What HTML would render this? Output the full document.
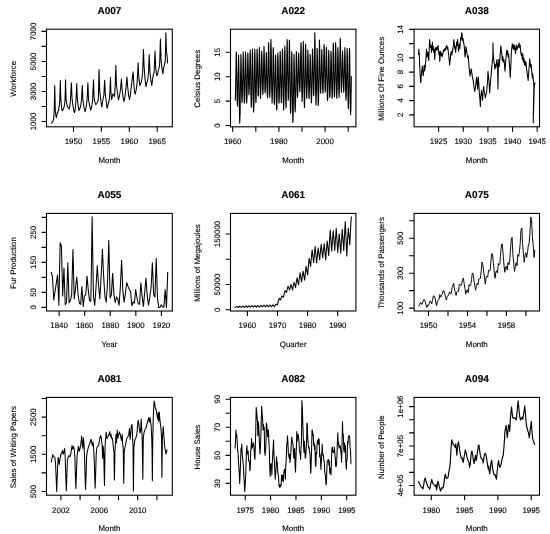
<!DOCTYPE html>
<html><head><meta charset="utf-8"><title>Time series</title>
<style>html,body{margin:0;padding:0;background:#fff}body{width:550px;height:534px;overflow:hidden}</style></head>
<body>
<svg width="550" height="534" viewBox="0 0 550 534" style="display:block">
<rect width="550" height="534" fill="#fff"/>
<g font-family='"Liberation Sans", sans-serif' fill="#000" stroke="none" style="text-rendering:geometricPrecision">
<g><polyline points="51.24,123.24 52.05,122.43 52.98,121.61 53.68,118.36 54.14,112.54 54.73,85.55 55.31,110.21 56.01,116.61 56.47,117.43 57.29,113.12 57.98,111.96 58.57,109.63 59.15,106.72 59.73,100.90 60.31,80.54 60.89,100.90 61.47,106.72 62.29,110.79 62.99,109.63 63.68,108.12 64.38,105.56 64.96,100.90 65.55,79.73 66.13,99.74 66.71,103.23 67.52,106.72 68.34,108.12 69.27,108.82 69.97,105.56 70.67,96.25 71.36,82.87 72.06,98.58 72.76,104.39 73.69,110.21 74.50,112.54 75.09,110.21 75.78,103.23 76.25,95.09 76.72,83.45 77.30,98.58 78.00,104.39 78.93,110.44 79.74,109.05 80.67,105.56 81.49,99.74 82.30,85.20 83.00,100.90 83.81,106.14 84.98,111.61 85.79,109.05 86.72,103.23 87.30,96.25 87.88,82.87 88.58,99.74 89.28,103.81 90.21,108.47 90.91,109.98 91.72,106.72 92.54,100.90 93.47,79.73 94.17,98.58 94.87,102.07 95.80,104.63 96.73,103.46 97.66,102.07 98.36,98.58 99.05,69.49 99.75,91.60 100.45,97.41 101.15,103.23 101.85,106.95 102.91,99.74 103.84,95.09 104.65,80.19 105.35,95.09 106.05,99.74 106.75,105.56 107.21,108.12 108.38,103.23 109.31,99.74 109.89,92.76 110.47,77.40 110.94,92.76 111.63,99.74 112.33,96.48 113.03,93.92 113.96,95.09 114.54,96.48 115.13,86.94 115.84,65.23 116.52,85.78 117.45,92.76 118.38,99.74 119.20,97.41 120.01,92.76 120.71,86.94 121.41,79.03 122.11,89.27 123.04,97.41 123.97,101.49 125.01,96.25 125.83,89.27 126.99,77.05 127.69,86.94 128.62,95.09 129.55,99.74 130.48,93.92 131.41,85.78 132.34,77.63 133.16,71.82 133.74,83.45 134.55,91.60 135.14,94.16 136.30,89.27 137.23,81.13 138.06,62.67 138.99,79.19 139.92,85.59 141.09,82.68 142.02,78.03 142.72,72.21 143.41,49.52 144.11,66.39 145.04,79.19 145.97,86.76 146.90,82.68 147.83,79.19 148.53,72.21 149.23,54.53 149.93,72.21 150.86,80.36 151.79,85.59 152.72,78.03 153.42,74.54 154.12,72.21 155.05,51.04 155.75,68.72 156.68,75.70 157.61,74.54 158.31,69.88 159.12,68.14 159.70,62.90 160.40,39.05 161.10,60.58 162.03,68.72 162.84,73.61 163.77,67.56 164.59,64.07 165.29,60.58 165.87,32.65 166.45,51.27 167.03,55.34 167.61,62.90" fill="none" stroke="#000" stroke-width="1.05" stroke-linejoin="round" stroke-linecap="round"/><rect x="46.50" y="29.20" width="125.8" height="97.6" fill="none" stroke="#000" stroke-width="1.1"/><path d="M73.50 126.80v5.0M101.40 126.80v5.0M129.30 126.80v5.0M157.20 126.80v5.0M46.50 121.50h-5.0M46.50 106.48h-5.0M46.50 91.47h-5.0M46.50 76.45h-5.0M46.50 61.43h-5.0M46.50 46.42h-5.0M46.50 31.40h-5.0" fill="none" stroke="#000" stroke-width="1.1"/><text stroke="#000" stroke-width="0.12" x="73.50" y="144.10" font-size="7.9" text-anchor="middle">1950</text><text stroke="#000" stroke-width="0.12" x="101.40" y="144.10" font-size="7.9" text-anchor="middle">1955</text><text stroke="#000" stroke-width="0.12" x="129.30" y="144.10" font-size="7.9" text-anchor="middle">1960</text><text stroke="#000" stroke-width="0.12" x="157.20" y="144.10" font-size="7.9" text-anchor="middle">1965</text><text stroke="#000" stroke-width="0.12" transform="translate(35.70 121.50) rotate(-90)" font-size="7.9" text-anchor="middle">1000</text><text stroke="#000" stroke-width="0.12" transform="translate(35.70 91.47) rotate(-90)" font-size="7.9" text-anchor="middle">3000</text><text stroke="#000" stroke-width="0.12" transform="translate(35.70 61.43) rotate(-90)" font-size="7.9" text-anchor="middle">5000</text><text stroke="#000" stroke-width="0.12" transform="translate(35.70 31.40) rotate(-90)" font-size="7.9" text-anchor="middle">7000</text><text stroke="#000" stroke-width="0.12" x="109.40" y="162.60" font-size="7.9" text-anchor="middle">Month</text><text stroke="#000" stroke-width="0.12" transform="translate(16.10 78.80) rotate(-90)" font-size="7.9" text-anchor="middle">Workforce</text><text stroke="#000" stroke-width="0.12" x="109.40" y="13.70" font-size="10.0" font-weight="bold" text-anchor="middle">A007</text></g>
<g><polyline points="235.11,100.33 235.30,99.36 235.49,94.26 235.68,82.14 235.88,73.32 236.07,59.44 236.26,51.85 236.45,54.75 236.65,66.20 236.84,78.96 237.03,95.63 237.22,102.16 237.42,106.14 237.61,105.13 237.80,100.10 237.99,88.24 238.19,74.00 238.38,65.38 238.57,55.34 238.76,59.94 238.96,69.42 239.15,86.26 239.34,106.43 239.53,118.52 239.73,123.25 239.92,117.89 240.11,115.33 240.30,95.91 240.50,83.26 240.69,67.69 240.88,54.18 241.07,57.97 241.27,65.77 241.46,76.88 241.65,92.57 241.84,98.38 242.04,102.65 242.23,100.42 242.42,95.17 242.61,84.12 242.81,74.39 243.00,62.22 243.19,51.85 243.38,55.42 243.58,62.23 243.77,77.92 243.96,91.86 244.15,98.69 244.35,103.24 244.54,101.93 244.73,96.04 244.92,83.23 245.12,71.38 245.31,61.39 245.50,51.85 245.69,53.53 245.89,63.03 246.08,75.62 246.27,89.72 246.46,100.21 246.66,103.24 246.85,99.32 247.04,97.12 247.23,85.57 247.43,71.81 247.62,62.80 247.81,53.02 248.00,54.75 248.20,64.21 248.39,73.35 248.58,83.88 248.77,91.42 248.97,95.09 249.16,92.05 249.35,88.73 249.54,78.02 249.74,67.68 249.93,56.95 250.12,50.11 250.31,52.65 250.51,60.75 250.70,76.16 250.89,93.73 251.08,101.79 251.28,107.31 251.47,106.14 251.66,96.79 251.85,85.44 252.05,69.41 252.24,56.40 252.43,48.94 252.62,52.82 252.82,63.53 253.01,79.39 253.20,99.85 253.39,107.16 253.59,111.96 253.78,110.70 253.97,104.29 254.16,92.06 254.36,72.46 254.55,61.36 254.74,48.94 254.93,52.45 255.13,61.35 255.32,73.80 255.51,92.02 255.70,98.63 255.90,102.65 256.09,100.78 256.28,92.00 256.47,81.60 256.67,68.47 256.86,58.73 257.05,48.94 257.24,51.24 257.44,60.02 257.63,70.78 257.82,82.73 258.01,94.12 258.21,96.25 258.40,95.28 258.59,89.77 258.78,80.02 258.98,67.10 259.17,54.91 259.36,47.55 259.55,50.80 259.75,61.31 259.94,73.48 260.13,87.00 260.32,94.16 260.52,98.58 260.71,95.00 260.90,90.07 261.09,81.39 261.29,69.50 261.48,57.81 261.67,51.04 261.86,54.72 262.06,58.87 262.25,71.56 262.44,82.45 262.63,89.74 262.83,94.51 263.02,93.55 263.21,87.29 263.40,79.09 263.60,64.99 263.79,56.19 263.98,46.38 264.17,50.25 264.37,57.94 264.56,71.14 264.75,82.37 264.94,91.13 265.14,92.76 265.33,91.96 265.52,87.72 265.71,79.85 265.91,69.12 266.10,60.80 266.29,52.44 266.48,53.80 266.68,61.94 266.87,76.82 267.06,88.19 267.25,95.05 267.45,98.00 267.64,96.89 267.83,91.22 268.02,76.10 268.22,61.99 268.41,51.61 268.60,42.55 268.79,44.83 268.99,56.89 269.18,72.16 269.37,85.11 269.56,94.32 269.76,97.42 269.95,93.77 270.14,90.10 270.33,79.30 270.53,59.99 270.72,48.52 270.91,39.40 271.10,44.21 271.30,53.17 271.49,74.34 271.68,87.74 271.87,95.07 272.07,103.24 272.26,99.54 272.45,93.23 272.64,84.52 272.84,70.57 273.03,58.31 273.22,47.55 273.41,49.25 273.61,59.87 273.80,74.39 273.99,91.72 274.18,101.43 274.38,104.40 274.57,101.38 274.76,94.10 274.95,84.87 275.15,73.24 275.34,61.33 275.53,55.00 275.72,56.65 275.92,68.60 276.11,82.39 276.30,97.58 276.49,108.18 276.69,109.98 276.88,108.84 277.07,102.13 277.26,90.85 277.46,74.71 277.65,59.53 277.84,53.02 278.03,55.29 278.23,61.87 278.42,75.68 278.61,88.90 278.80,99.90 279.00,103.24 279.19,102.20 279.38,96.34 279.57,86.10 279.77,73.59 279.96,58.94 280.15,51.27 280.34,52.81 280.54,60.83 280.73,77.07 280.92,89.54 281.11,97.00 281.31,102.65 281.50,101.58 281.69,93.20 281.88,81.12 282.08,68.91 282.27,56.19 282.46,48.94 282.65,51.53 282.85,64.39 283.04,77.81 283.23,96.54 283.42,103.47 283.62,110.22 283.81,105.26 284.00,100.62 284.19,87.74 284.39,68.84 284.58,54.86 284.77,46.04 284.96,50.55 285.16,61.95 285.35,79.12 285.54,90.54 285.73,101.05 285.93,107.89 286.12,106.52 286.31,94.70 286.50,79.95 286.70,65.72 286.89,51.39 287.08,39.40 287.27,41.54 287.47,55.05 287.66,72.82 287.85,82.84 288.04,94.54 288.24,100.33 288.43,98.36 288.62,88.06 288.81,79.00 289.01,61.88 289.20,47.67 289.39,39.99 289.58,45.02 289.78,57.89 289.97,78.07 290.16,97.47 290.35,106.64 290.55,113.13 290.74,111.90 290.93,103.82 291.12,93.33 291.32,73.85 291.51,62.55 291.70,51.85 291.89,54.97 292.09,66.79 292.28,84.29 292.47,106.06 292.66,113.84 292.86,122.43 293.05,120.38 293.24,111.30 293.43,97.70 293.63,84.77 293.82,65.51 294.01,54.18 294.20,58.32 294.40,69.76 294.59,81.34 294.78,99.99 294.97,107.49 295.17,111.96 295.36,108.77 295.55,101.91 295.74,91.17 295.94,75.44 296.13,60.65 296.32,51.27 296.51,52.66 296.71,63.24 296.90,74.07 297.09,87.50 297.28,94.76 297.48,97.42 297.67,94.88 297.86,90.28 298.05,81.16 298.25,69.62 298.44,58.29 298.63,53.02 298.82,54.78 299.02,61.07 299.21,72.29 299.40,82.29 299.59,87.77 299.79,91.60 299.98,90.36 300.17,83.59 300.36,74.05 300.56,60.00 300.75,49.42 300.94,42.55 301.13,44.31 301.33,52.91 301.52,73.43 301.71,86.99 301.90,94.16 302.10,101.49 302.29,97.64 302.48,94.05 302.67,82.13 302.87,65.77 303.06,53.57 303.25,41.38 303.44,45.75 303.64,58.79 303.83,73.40 304.02,89.87 304.21,99.72 304.41,107.66 304.60,106.38 304.79,96.11 304.98,83.74 305.18,71.77 305.37,51.80 305.56,44.06 305.75,45.69 305.95,57.58 306.14,68.85 306.33,86.05 306.52,94.29 306.72,98.58 306.91,94.75 307.10,89.21 307.29,82.77 307.49,69.83 307.68,57.79 307.87,50.11 308.06,52.83 308.26,62.25 308.45,75.22 308.64,85.87 308.83,97.03 309.03,98.58 309.22,97.01 309.41,91.74 309.60,84.74 309.80,72.69 309.99,60.73 310.18,54.18 310.37,56.07 310.57,67.05 310.76,76.22 310.95,89.88 311.14,96.79 311.34,103.00 311.53,101.92 311.72,95.62 311.91,86.03 312.11,69.06 312.30,58.83 312.49,48.94 312.68,52.54 312.88,59.59 313.07,70.39 313.26,82.97 313.45,93.06 313.65,95.67 313.84,94.41 314.03,82.95 314.22,72.54 314.42,56.60 314.61,45.32 314.80,32.65 314.99,38.78 315.19,47.28 315.38,69.53 315.57,91.00 315.76,96.33 315.96,105.33 316.15,102.85 316.34,94.50 316.53,87.19 316.73,69.12 316.92,59.95 317.11,48.36 317.30,50.08 317.50,61.21 317.69,77.88 317.88,91.53 318.07,98.55 318.27,105.56 318.46,104.25 318.65,97.50 318.84,81.78 319.04,67.93 319.23,53.04 319.42,39.99 319.61,43.93 319.81,54.12 320.00,68.26 320.19,81.54 320.38,90.12 320.58,93.34 320.77,90.89 320.96,87.25 321.15,77.57 321.35,68.47 321.54,57.21 321.73,49.53 321.92,53.39 322.12,60.26 322.31,73.56 322.50,81.81 322.69,89.62 322.89,93.34 323.08,92.37 323.27,85.66 323.46,73.65 323.66,65.97 323.85,50.78 324.04,44.52 324.23,46.75 324.43,55.03 324.62,66.76 324.81,81.25 325.00,88.34 325.20,92.18 325.39,89.99 325.58,82.81 325.77,76.70 325.97,63.70 326.16,53.47 326.35,47.20 326.54,48.80 326.74,59.47 326.93,74.75 327.12,90.22 327.31,98.38 327.51,100.68 327.70,99.67 327.89,91.41 328.08,83.79 328.28,72.17 328.47,60.49 328.66,50.34 328.85,51.75 329.05,58.95 329.24,73.08 329.43,87.15 329.62,94.86 329.82,97.42 330.01,96.49 330.20,90.22 330.39,82.39 330.59,69.98 330.78,59.75 330.97,51.27 331.16,52.68 331.36,59.40 331.55,74.59 331.74,88.25 331.93,92.39 332.13,98.35 332.32,97.24 332.51,90.30 332.70,81.22 332.90,65.87 333.09,52.10 333.28,43.13 333.47,45.26 333.67,56.55 333.86,69.96 334.05,86.60 334.24,93.81 334.44,96.84 334.63,95.75 334.82,88.69 335.01,79.78 335.21,66.85 335.40,52.29 335.59,42.55 335.78,46.27 335.98,54.34 336.17,70.28 336.36,83.56 336.55,93.00 336.75,98.35 336.94,95.73 337.13,88.29 337.32,80.62 337.52,68.75 337.71,53.21 337.90,47.55 338.09,51.29 338.29,57.40 338.48,71.77 338.67,87.72 338.86,91.76 339.06,97.42 339.25,93.32 339.44,87.20 339.63,74.73 339.83,60.06 340.02,49.84 340.21,38.24 340.40,40.27 340.60,50.08 340.79,63.40 340.98,77.59 341.17,86.11 341.37,92.18 341.56,90.60 341.75,83.98 341.94,76.62 342.14,66.70 342.33,58.73 342.52,51.04 342.71,54.61 342.91,61.60 343.10,72.18 343.29,83.93 343.48,87.51 343.68,92.18 343.87,90.58 344.06,84.47 344.25,75.55 344.45,64.60 344.64,54.74 344.83,47.55 345.02,52.28 345.22,57.59 345.41,72.63 345.60,87.64 345.79,95.92 345.99,100.33 346.18,97.94 346.37,94.27 346.56,80.39 346.76,70.44 346.95,58.89 347.14,48.36 347.33,52.20 347.53,60.28 347.72,80.37 347.91,92.86 348.10,101.11 348.30,108.82 348.49,107.04 348.68,99.86 348.87,87.18 349.07,71.44 349.26,56.42 349.45,48.36 349.64,50.35 349.84,62.00 350.03,84.30 350.22,101.07 350.41,110.97 350.61,114.64 350.80,110.88 350.99,104.92 351.18,89.26 351.38,76.50" fill="none" stroke="#000" stroke-width="1.05" stroke-linejoin="round" stroke-linecap="round"/><rect x="230.50" y="29.20" width="125.4" height="97.6" fill="none" stroke="#000" stroke-width="1.1"/><path d="M232.70 126.80v5.0M255.80 126.80v5.0M278.90 126.80v5.0M302.00 126.80v5.0M325.10 126.80v5.0M348.20 126.80v5.0M230.50 125.50h-5.0M230.50 101.10h-5.0M230.50 76.70h-5.0M230.50 52.30h-5.0" fill="none" stroke="#000" stroke-width="1.1"/><text stroke="#000" stroke-width="0.12" x="232.70" y="144.10" font-size="7.9" text-anchor="middle">1960</text><text stroke="#000" stroke-width="0.12" x="278.90" y="144.10" font-size="7.9" text-anchor="middle">1980</text><text stroke="#000" stroke-width="0.12" x="325.10" y="144.10" font-size="7.9" text-anchor="middle">2000</text><text stroke="#000" stroke-width="0.12" transform="translate(219.70 125.50) rotate(-90)" font-size="7.9" text-anchor="middle">0</text><text stroke="#000" stroke-width="0.12" transform="translate(219.70 101.10) rotate(-90)" font-size="7.9" text-anchor="middle">5</text><text stroke="#000" stroke-width="0.12" transform="translate(219.70 76.70) rotate(-90)" font-size="7.9" text-anchor="middle">10</text><text stroke="#000" stroke-width="0.12" transform="translate(219.70 52.30) rotate(-90)" font-size="7.9" text-anchor="middle">15</text><text stroke="#000" stroke-width="0.12" x="293.20" y="162.60" font-size="7.9" text-anchor="middle">Month</text><text stroke="#000" stroke-width="0.12" transform="translate(200.10 78.80) rotate(-90)" font-size="7.9" text-anchor="middle">Celsius Degrees</text><text stroke="#000" stroke-width="0.12" x="293.20" y="13.70" font-size="10.0" font-weight="bold" text-anchor="middle">A022</text></g>
<g><polyline points="418.42,54.53 418.42,54.58 418.83,50.29 418.89,48.94 419.24,54.76 419.24,54.43 419.59,62.91 419.65,64.84 420.07,72.37 420.17,74.54 420.48,79.82 420.63,82.69 420.89,81.18 421.21,76.87 421.30,76.11 421.71,71.89 421.91,69.89 422.12,68.47 422.38,65.82 422.53,68.55 422.84,72.22 422.94,72.94 423.31,75.71 423.35,75.58 423.76,70.61 423.77,71.05 424.18,65.83 424.24,65.24 424.59,69.33 424.71,71.05 425.00,68.13 425.17,67.56 425.41,64.35 425.64,62.91 425.82,59.72 426.10,57.09 426.23,53.94 426.45,48.94 426.64,52.20 426.92,57.09 427.05,56.23 427.38,54.76 427.46,54.39 427.85,52.44 427.87,51.98 428.29,56.78 428.31,57.09 428.70,60.10 428.78,60.58 429.11,52.20 429.13,51.27 429.52,41.01 429.59,39.64 429.93,42.79 430.06,44.29 430.34,45.30 430.52,47.78 430.75,46.36 430.99,45.45 431.16,46.86 431.45,52.44 431.57,50.76 431.92,48.94 431.98,48.74 432.38,43.13 432.40,42.08 432.81,49.89 432.85,50.11 433.22,47.53 433.32,46.62 433.63,50.36 433.78,52.44 434.04,50.75 434.25,48.94 434.45,53.83 434.71,59.42 434.86,57.37 435.18,51.27 435.27,50.43 435.64,47.78 435.68,47.66 436.09,49.71 436.11,50.11 436.51,47.58 436.57,47.78 436.92,49.47 437.04,50.11 437.33,47.51 437.50,46.62 437.74,46.62 437.97,45.45 438.15,46.22 438.44,50.11 438.56,50.76 438.90,54.76 438.97,53.89 439.37,52.44 439.38,51.59 439.79,61.49 439.83,61.16 440.20,55.65 440.30,55.93 440.62,52.59 440.76,51.27 441.03,52.96 441.23,54.76 441.44,55.15 441.69,53.60 441.85,53.48 442.16,56.51 442.26,56.72 442.62,54.76 442.67,54.19 443.08,52.96 443.09,53.02 443.49,50.13 443.56,50.11 443.90,51.33 444.02,51.27 444.31,49.18 444.49,48.94 444.73,49.80 444.95,50.69 445.14,49.73 445.42,47.78 445.55,49.28 445.88,49.53 445.96,47.73 446.35,46.62 446.37,47.40 446.78,46.06 446.81,45.45 447.19,48.02 447.28,48.94 447.60,47.90 447.74,47.20 448.01,48.96 448.21,50.69 448.42,53.48 448.68,54.76 448.84,56.48 449.14,59.42 449.25,60.62 449.61,65.24 449.66,64.60 450.07,60.50 450.07,60.58 450.48,56.40 450.54,55.93 450.89,53.23 451.00,53.02 451.30,53.03 451.47,51.27 451.71,52.36 451.93,55.34 452.12,52.17 452.40,52.44 452.53,51.35 452.86,48.94 452.95,48.25 453.33,45.45 453.36,45.32 453.77,39.87 453.80,39.64 454.18,42.43 454.26,43.13 454.59,47.42 454.73,48.94 455.00,48.10 455.19,46.62 455.41,49.12 455.66,52.44 455.82,50.57 456.12,47.78 456.23,47.46 456.59,41.96 456.64,42.68 457.05,45.45 457.06,44.88 457.47,41.56 457.52,39.64 457.88,42.75 457.98,43.13 458.29,48.13 458.45,51.27 458.70,48.13 458.92,46.62 459.11,45.80 459.38,44.29 459.52,45.24 459.85,48.94 459.93,47.28 460.31,43.13 460.34,42.01 460.75,37.31 460.78,37.31 461.17,39.86 461.24,39.64 461.58,34.38 461.71,32.65 461.99,33.26 462.17,34.98 462.40,38.17 462.64,40.80 462.81,39.98 463.10,38.47 463.22,39.81 463.57,41.96 463.63,42.94 464.03,44.29 464.04,44.28 464.45,48.40 464.50,48.94 464.86,55.30 464.97,57.09 465.28,54.14 465.43,53.60 465.69,50.14 465.90,46.62 466.10,48.38 466.36,48.94 466.51,50.14 466.83,52.44 466.92,53.00 467.29,55.93 467.33,55.97 467.74,57.74 467.76,58.25 468.15,55.84 468.22,55.93 468.56,60.35 468.91,65.27 468.97,65.61 469.39,70.76 469.45,71.82 469.80,73.70 470.00,76.18 470.21,75.12 470.54,72.91 470.62,72.41 471.03,68.88 471.09,69.09 471.44,69.58 471.64,71.82 471.85,73.11 472.18,75.09 472.26,76.19 472.67,77.64 472.73,78.36 473.08,80.25 473.27,81.64 473.50,83.12 473.82,86.00 473.91,86.90 474.32,88.50 474.36,89.27 474.73,91.28 474.91,91.45 475.14,89.43 475.45,87.09 475.55,86.82 475.96,83.04 476.00,82.73 476.37,78.86 476.54,77.27 476.78,79.33 477.09,83.82 477.19,84.49 477.61,88.83 477.63,89.27 478.02,80.86 478.18,76.73 478.43,79.58 478.73,82.73 478.84,84.15 479.25,91.33 479.27,91.45 479.66,96.67 479.82,98.00 480.07,102.00 480.36,106.73 480.48,104.07 480.89,95.88 480.91,95.82 481.30,92.29 481.45,90.36 481.72,92.23 482.00,93.63 482.13,94.66 482.54,100.31 482.54,100.18 482.95,94.25 483.09,92.54 483.36,89.16 483.63,86.54 483.77,88.18 484.18,90.36 484.18,90.82 484.59,92.44 484.73,93.63 485.00,95.90 485.27,98.00 485.41,97.70 485.82,95.82 485.83,95.43 486.24,94.07 486.36,93.63 486.65,91.72 486.91,89.27 487.06,86.47 487.45,82.73 487.47,82.55 487.88,74.15 488.00,71.27 488.29,74.78 488.54,77.27 488.70,78.12 489.09,82.73 489.11,83.37 489.52,90.53 489.63,93.09 489.94,89.49 490.18,86.00 490.35,84.33 490.73,79.45 490.76,79.19 491.17,73.71 491.27,72.91 491.58,68.88 491.82,66.36 491.99,65.44 492.36,62.00 492.40,61.11 492.81,57.76 492.91,56.55 492.92,54.23 492.93,43.08 493.22,51.29 493.34,54.23 493.63,57.71 493.87,60.79 494.05,62.99 494.39,63.41 494.46,64.08 494.87,69.33 494.92,68.66 495.28,64.84 495.44,64.72 495.69,64.72 495.97,67.34 496.10,66.55 496.49,62.10 496.51,62.35 496.92,59.77 497.02,59.48 497.33,63.41 497.54,66.03 497.74,76.87 497.93,88.98 498.16,76.47 498.33,67.34 498.57,63.19 498.85,59.48 498.98,60.92 499.38,66.03 499.39,66.35 499.80,59.72 499.90,58.16 500.21,54.51 500.43,51.61 500.62,48.29 500.82,45.70 501.03,47.33 501.34,50.30 501.44,51.10 501.85,53.97 501.87,54.23 502.27,59.89 502.39,60.79 502.68,58.18 502.92,56.85 503.09,59.59 503.44,62.10 503.50,61.28 503.91,60.35 503.97,59.48 504.32,62.58 504.49,64.72 504.73,68.63 505.02,71.28 505.14,69.46 505.54,63.41 505.55,63.47 505.96,58.52 506.07,56.85 506.38,52.63 506.59,50.30 506.79,51.20 507.11,54.23 507.20,52.60 507.61,51.81 507.64,50.95 508.02,54.85 508.16,56.85 508.43,55.19 508.69,54.23 508.84,56.51 509.21,62.10 509.25,63.69 509.66,66.78 509.74,68.66 510.07,74.69 510.26,77.84 510.49,73.15 510.79,67.34 510.90,64.89 511.31,53.33 511.31,54.23 511.72,48.92 511.84,47.67 512.13,45.93 512.36,43.74 512.54,45.95 512.89,47.67 512.95,48.22 513.36,44.81 513.41,45.05 513.77,48.26 513.93,49.64 514.18,47.39 514.46,45.05 514.60,45.32 514.98,48.98 515.01,48.39 515.42,53.20 515.51,53.57 515.83,50.10 516.03,47.67 516.24,46.56 516.56,45.05 516.65,46.53 517.06,48.91 517.08,49.64 517.47,47.49 517.61,46.36 517.88,47.06 518.13,47.67 518.29,46.62 518.66,44.39 518.71,44.54 519.12,43.34 519.18,43.08 519.53,46.27 519.70,47.67 519.94,46.65 520.23,45.05 520.35,47.62 520.75,51.61 520.76,51.49 521.17,55.30 521.28,55.54 521.58,54.36 521.80,52.92 521.99,55.11 522.33,59.48 522.40,59.14 522.82,54.13 522.85,54.23 523.23,60.48 523.38,62.10 523.64,59.70 523.90,58.16 524.05,59.73 524.43,64.72 524.46,64.65 524.87,61.85 524.95,60.79 525.28,64.59 525.48,66.03 525.69,64.89 526.00,62.10 526.10,63.28 526.51,68.01 526.52,68.66 526.93,71.97 527.05,72.59 527.34,74.91 527.57,76.52 527.75,77.31 528.10,80.46 528.16,80.24 528.57,74.68 528.62,73.90 528.98,68.90 529.15,67.34 529.39,63.62 529.67,58.82 529.80,59.23 530.20,63.41 530.21,63.05 530.62,66.84 530.72,67.34 531.04,64.92 531.25,64.72 531.45,67.75 531.77,72.59 531.86,72.72 532.27,77.98 532.30,77.84 532.68,74.55 532.82,73.90 533.09,77.39 533.34,80.46 533.50,81.21 533.87,85.70 533.21,122.82 534.26,87.02 534.79,83.08 535.18,82.82" fill="none" stroke="#000" stroke-width="1.05" stroke-linejoin="round" stroke-linecap="round"/><rect x="414.10" y="29.20" width="125.4" height="97.6" fill="none" stroke="#000" stroke-width="1.1"/><path d="M438.60 126.80v5.0M463.25 126.80v5.0M487.90 126.80v5.0M512.55 126.80v5.0M537.20 126.80v5.0M414.10 114.90h-5.0M414.10 100.65h-5.0M414.10 86.40h-5.0M414.10 72.15h-5.0M414.10 57.90h-5.0M414.10 43.65h-5.0M414.10 29.40h-5.0" fill="none" stroke="#000" stroke-width="1.1"/><text stroke="#000" stroke-width="0.12" x="438.60" y="144.10" font-size="7.9" text-anchor="middle">1925</text><text stroke="#000" stroke-width="0.12" x="463.25" y="144.10" font-size="7.9" text-anchor="middle">1930</text><text stroke="#000" stroke-width="0.12" x="487.90" y="144.10" font-size="7.9" text-anchor="middle">1935</text><text stroke="#000" stroke-width="0.12" x="512.55" y="144.10" font-size="7.9" text-anchor="middle">1940</text><text stroke="#000" stroke-width="0.12" x="537.20" y="144.10" font-size="7.9" text-anchor="middle">1945</text><text stroke="#000" stroke-width="0.12" transform="translate(403.30 114.90) rotate(-90)" font-size="7.9" text-anchor="middle">2</text><text stroke="#000" stroke-width="0.12" transform="translate(403.30 100.65) rotate(-90)" font-size="7.9" text-anchor="middle">4</text><text stroke="#000" stroke-width="0.12" transform="translate(403.30 86.40) rotate(-90)" font-size="7.9" text-anchor="middle">6</text><text stroke="#000" stroke-width="0.12" transform="translate(403.30 72.15) rotate(-90)" font-size="7.9" text-anchor="middle">8</text><text stroke="#000" stroke-width="0.12" transform="translate(403.30 57.90) rotate(-90)" font-size="7.9" text-anchor="middle">10</text><text stroke="#000" stroke-width="0.12" transform="translate(403.30 29.40) rotate(-90)" font-size="7.9" text-anchor="middle">14</text><text stroke="#000" stroke-width="0.12" x="476.80" y="162.60" font-size="7.9" text-anchor="middle">Month</text><text stroke="#000" stroke-width="0.12" transform="translate(383.70 78.80) rotate(-90)" font-size="7.9" text-anchor="middle">Millions Of Fine Ounces</text><text stroke="#000" stroke-width="0.12" x="476.80" y="13.70" font-size="10.0" font-weight="bold" text-anchor="middle">A038</text></g>
<g><polyline points="51.16,272.27 52.44,276.47 53.72,300.09 55.00,291.70 56.28,283.30 57.56,274.90 58.85,305.34 60.13,242.80 61.41,246.30 62.69,295.90 63.97,268.07 65.25,304.82 66.53,302.19 67.81,262.82 69.09,302.72 70.38,300.62 71.66,294.85 72.94,249.50 74.22,299.04 75.50,288.55 76.78,277.00 78.06,293.80 79.34,303.24 80.62,304.29 81.90,286.45 83.19,306.39 84.47,295.90 85.75,294.85 87.03,275.95 88.31,290.65 89.59,300.62 90.87,301.14 92.15,216.70 93.43,295.90 94.71,305.34 95.99,287.50 97.28,265.45 98.56,285.40 99.84,299.04 101.12,277.00 102.40,249.20 103.68,277.00 104.96,296.94 106.24,302.19 107.52,282.25 108.80,240.50 110.09,297.99 111.37,294.85 112.65,273.32 113.93,294.85 115.21,302.72 116.49,296.94 117.77,299.04 119.05,305.34 120.33,287.50 121.61,260.20 122.90,291.65 124.18,302.14 125.46,292.70 126.74,282.74 128.02,286.41 129.30,289.55 130.58,291.65 131.86,305.81 133.14,302.14 134.43,303.18 135.71,289.55 136.99,297.94 138.27,303.71 139.55,304.23 140.83,282.74 142.11,295.84 143.39,306.33 144.67,292.70 145.95,278.02 147.23,295.84 148.52,305.28 149.80,296.89 151.08,287.46 152.36,262.82 153.64,294.80 154.92,296.89 156.20,258.62 157.48,297.94 158.76,307.38 160.04,307.38 161.33,304.76 162.61,306.85 163.89,307.38 165.17,289.55 166.45,307.38 167.73,272.25" fill="none" stroke="#000" stroke-width="1.05" stroke-linejoin="round" stroke-linecap="round"/><rect x="46.50" y="213.40" width="125.8" height="97.6" fill="none" stroke="#000" stroke-width="1.1"/><path d="M59.10 311.00v5.0M84.68 311.00v5.0M110.25 311.00v5.0M135.83 311.00v5.0M161.40 311.00v5.0M46.50 307.40h-5.0M46.50 292.40h-5.0M46.50 277.40h-5.0M46.50 262.40h-5.0M46.50 247.40h-5.0M46.50 232.40h-5.0M46.50 217.40h-5.0" fill="none" stroke="#000" stroke-width="1.1"/><text stroke="#000" stroke-width="0.12" x="59.10" y="328.30" font-size="7.9" text-anchor="middle">1840</text><text stroke="#000" stroke-width="0.12" x="84.68" y="328.30" font-size="7.9" text-anchor="middle">1860</text><text stroke="#000" stroke-width="0.12" x="110.25" y="328.30" font-size="7.9" text-anchor="middle">1880</text><text stroke="#000" stroke-width="0.12" x="135.83" y="328.30" font-size="7.9" text-anchor="middle">1900</text><text stroke="#000" stroke-width="0.12" x="161.40" y="328.30" font-size="7.9" text-anchor="middle">1920</text><text stroke="#000" stroke-width="0.12" transform="translate(35.70 307.40) rotate(-90)" font-size="7.9" text-anchor="middle">0</text><text stroke="#000" stroke-width="0.12" transform="translate(35.70 292.40) rotate(-90)" font-size="7.9" text-anchor="middle">50</text><text stroke="#000" stroke-width="0.12" transform="translate(35.70 262.40) rotate(-90)" font-size="7.9" text-anchor="middle">150</text><text stroke="#000" stroke-width="0.12" transform="translate(35.70 232.40) rotate(-90)" font-size="7.9" text-anchor="middle">250</text><text stroke="#000" stroke-width="0.12" x="109.40" y="346.80" font-size="7.9" text-anchor="middle">Year</text><text stroke="#000" stroke-width="0.12" transform="translate(16.10 263.00) rotate(-90)" font-size="7.9" text-anchor="middle">Fur Production</text><text stroke="#000" stroke-width="0.12" x="109.40" y="197.90" font-size="10.0" font-weight="bold" text-anchor="middle">A055</text></g>
<g><polyline points="235.10,307.60 236.09,306.89 236.85,306.30 237.60,306.90 238.35,307.50 239.11,306.77 239.86,306.17 240.61,306.80 241.36,307.44 242.12,306.67 242.87,306.03 243.62,306.71 244.38,307.38 245.13,306.57 245.88,305.90 246.64,306.61 247.39,307.32 248.14,306.47 248.89,305.77 249.65,306.52 250.40,307.27 251.15,306.37 251.91,305.63 252.66,306.42 253.41,307.21 254.17,306.27 254.92,305.50 255.67,306.32 256.42,307.15 257.18,306.17 257.93,305.37 258.68,306.23 259.44,307.09 260.19,306.07 260.94,305.23 261.70,306.13 262.45,307.03 263.20,305.97 263.95,305.10 264.71,306.04 265.46,306.98 266.21,305.87 266.97,304.97 267.72,305.94 268.47,306.92 269.23,305.77 269.98,304.83 270.73,305.85 271.48,306.86 272.24,305.67 272.99,304.70 273.74,305.75 274.50,306.80 275.25,305.32 276.00,304.10 276.76,304.50 277.51,304.90 278.26,301.27 279.01,298.30 279.77,299.15 280.52,300.00 281.27,297.80 282.03,296.00 282.78,296.55 283.53,297.10 284.29,293.47 285.04,290.50 285.79,291.50 286.54,292.50 287.30,289.03 288.05,286.20 288.80,288.10 289.56,290.00 290.31,286.98 291.06,284.50 291.82,287.20 292.57,289.90 293.32,285.72 294.07,282.30 294.83,284.95 295.58,287.60 296.33,282.21 297.09,277.80 297.84,281.30 298.59,284.80 299.35,278.20 300.10,272.80 300.85,277.40 301.60,282.00 302.36,276.06 303.11,271.20 303.86,275.65 304.62,280.10 305.37,272.57 306.12,266.40 306.88,270.70 307.63,275.00 308.38,265.76 309.13,258.20 309.89,262.35 310.64,266.50 311.39,257.26 312.15,249.70 312.90,256.25 313.65,262.80 314.41,253.78 315.16,246.40 315.91,254.70 316.66,263.00 317.42,254.64 318.17,247.80 318.92,253.90 319.68,260.00 320.43,251.37 321.18,244.30 321.94,251.10 322.69,257.90 323.44,250.14 324.19,243.80 324.95,251.90 325.70,260.00 326.45,249.55 327.21,241.00 327.96,248.30 328.71,255.60 329.47,241.52 330.22,230.00 330.97,240.60 331.72,251.20 332.48,239.93 333.23,230.70 333.98,240.55 334.74,250.40 335.49,238.41 336.24,228.60 337.00,240.55 337.75,252.50 338.50,242.16 339.25,233.70 340.01,243.45 340.76,253.20 341.51,240.11 342.27,229.40 343.02,240.05 343.77,250.70 344.53,234.64 345.28,221.50 346.03,238.70 346.78,255.90 347.54,240.56 348.29,228.00 349.04,236.45 349.80,244.90 350.55,229.39 351.30,216.70" fill="none" stroke="#000" stroke-width="1.05" stroke-linejoin="round" stroke-linecap="round"/><rect x="230.50" y="213.40" width="125.4" height="97.6" fill="none" stroke="#000" stroke-width="1.1"/><path d="M247.40 311.00v5.0M277.50 311.00v5.0M307.60 311.00v5.0M337.70 311.00v5.0M230.50 309.70h-5.0M230.50 284.47h-5.0M230.50 259.23h-5.0M230.50 234.00h-5.0" fill="none" stroke="#000" stroke-width="1.1"/><text stroke="#000" stroke-width="0.12" x="247.40" y="328.30" font-size="7.9" text-anchor="middle">1960</text><text stroke="#000" stroke-width="0.12" x="277.50" y="328.30" font-size="7.9" text-anchor="middle">1970</text><text stroke="#000" stroke-width="0.12" x="307.60" y="328.30" font-size="7.9" text-anchor="middle">1980</text><text stroke="#000" stroke-width="0.12" x="337.70" y="328.30" font-size="7.9" text-anchor="middle">1990</text><text stroke="#000" stroke-width="0.12" transform="translate(219.70 309.70) rotate(-90)" font-size="7.9" text-anchor="middle">0</text><text stroke="#000" stroke-width="0.12" transform="translate(219.70 284.47) rotate(-90)" font-size="7.9" text-anchor="middle">50000</text><text stroke="#000" stroke-width="0.12" transform="translate(219.70 234.00) rotate(-90)" font-size="7.9" text-anchor="middle">150000</text><text stroke="#000" stroke-width="0.12" x="293.20" y="346.80" font-size="7.9" text-anchor="middle">Quarter</text><text stroke="#000" stroke-width="0.12" transform="translate(200.10 263.00) rotate(-90)" font-size="7.9" text-anchor="middle">Millions of Megajoules</text><text stroke="#000" stroke-width="0.12" x="293.20" y="197.90" font-size="10.0" font-weight="bold" text-anchor="middle">A061</text></g>
<g><polyline points="418.76,306.00 419.57,304.96 420.38,302.51 421.19,303.04 422.01,304.43 422.82,301.99 423.63,299.72 424.44,299.72 425.25,301.81 426.06,304.78 426.88,307.40 427.69,304.96 428.50,305.48 429.31,303.56 430.12,300.94 430.94,301.99 431.75,303.74 432.56,299.54 433.37,295.88 434.18,295.88 434.99,297.97 435.81,302.34 436.62,305.66 437.43,301.12 438.24,300.24 439.05,299.37 439.86,294.48 440.68,297.10 441.49,295.53 442.30,294.48 443.11,290.81 443.92,290.81 444.73,293.43 445.55,297.27 446.36,300.07 447.17,296.58 447.98,295.70 448.79,294.13 449.60,291.86 450.42,293.96 451.23,293.61 452.04,287.50 452.85,285.40 453.66,283.31 454.47,289.07 455.28,292.21 456.10,295.53 456.91,291.69 457.72,291.34 458.53,291.34 459.34,284.35 460.15,284.53 460.97,285.58 461.78,283.13 462.59,279.47 463.40,278.07 464.21,284.18 465.02,288.72 465.84,294.13 466.65,290.47 467.46,289.94 468.27,292.74 469.08,284.53 469.89,285.93 470.71,284.70 471.52,279.47 472.33,272.83 473.14,274.40 473.95,280.34 474.76,285.58 475.58,290.12 476.39,285.58 477.20,283.31 478.01,284.88 478.82,278.94 479.63,278.59 480.45,278.42 481.26,270.56 482.07,262.01 482.88,264.97 483.69,271.08 484.50,277.72 485.32,284.18 486.13,277.02 486.94,275.97 487.75,277.20 488.56,270.21 489.38,270.91 490.19,270.04 491.00,260.26 491.81,253.45 492.62,254.85 493.43,263.58 494.25,272.13 495.06,278.24 495.87,272.13 496.68,270.56 497.49,273.01 498.30,263.40 499.12,264.80 499.93,263.58 500.74,251.88 501.55,244.37 502.36,244.02 503.17,255.02 503.99,264.97 504.80,272.31 505.61,266.89 506.42,266.20 507.23,270.04 508.04,262.35 508.86,264.80 509.67,262.18 510.48,249.61 511.29,239.83 512.10,237.39 512.91,255.02 513.73,262.88 514.54,271.43 515.35,266.72 516.16,262.70 516.97,265.85 517.78,254.67 518.60,256.42 519.41,252.23 520.22,243.15 521.03,229.88 521.84,227.96 522.65,244.72 523.46,254.50 524.28,262.35 525.09,254.85 525.90,252.75 526.71,257.29 527.52,252.40 528.34,245.07 529.15,243.15 529.96,232.15 530.77,216.96 531.58,219.75 532.39,236.86 533.20,245.07 534.02,257.47 534.83,250.13" fill="none" stroke="#000" stroke-width="0.95" stroke-linejoin="round" stroke-linecap="round"/><rect x="414.10" y="213.40" width="125.4" height="97.6" fill="none" stroke="#000" stroke-width="1.1"/><path d="M428.50 311.00v5.0M447.98 311.00v5.0M467.46 311.00v5.0M486.94 311.00v5.0M506.42 311.00v5.0M525.90 311.00v5.0M414.10 308.10h-5.0M414.10 290.64h-5.0M414.10 273.18h-5.0M414.10 255.72h-5.0M414.10 238.26h-5.0M414.10 220.80h-5.0" fill="none" stroke="#000" stroke-width="1.1"/><text stroke="#000" stroke-width="0.12" x="428.50" y="328.30" font-size="7.9" text-anchor="middle">1950</text><text stroke="#000" stroke-width="0.12" x="467.46" y="328.30" font-size="7.9" text-anchor="middle">1954</text><text stroke="#000" stroke-width="0.12" x="506.42" y="328.30" font-size="7.9" text-anchor="middle">1958</text><text stroke="#000" stroke-width="0.12" transform="translate(403.30 308.10) rotate(-90)" font-size="7.9" text-anchor="middle">100</text><text stroke="#000" stroke-width="0.12" transform="translate(403.30 273.18) rotate(-90)" font-size="7.9" text-anchor="middle">300</text><text stroke="#000" stroke-width="0.12" transform="translate(403.30 238.26) rotate(-90)" font-size="7.9" text-anchor="middle">500</text><text stroke="#000" stroke-width="0.12" x="476.80" y="346.80" font-size="7.9" text-anchor="middle">Month</text><text stroke="#000" stroke-width="0.12" transform="translate(383.70 263.00) rotate(-90)" font-size="7.9" text-anchor="middle">Thousands of Passengers</text><text stroke="#000" stroke-width="0.12" x="476.80" y="197.90" font-size="10.0" font-weight="bold" text-anchor="middle">A075</text></g>
<g><polyline points="51.41,461.96 51.97,458.41 52.83,454.57 53.68,456.70 54.82,457.27 55.53,462.67 56.24,479.74 56.67,491.41 57.24,476.90 57.81,462.67 58.23,457.27 58.80,461.25 59.23,464.38 59.94,459.12 60.79,454.57 61.65,453.00 62.50,450.58 63.21,454.14 63.92,452.01 64.63,448.45 65.20,456.98 65.77,476.90 66.34,490.84 66.91,474.05 67.48,459.83 68.19,457.27 69.04,455.56 69.90,456.70 70.61,454.85 71.32,450.58 72.03,445.60 72.74,449.16 73.45,446.32 74.17,448.45 74.88,456.98 75.45,476.90 75.87,488.56 76.44,474.05 77.01,456.98 77.72,450.58 78.43,446.32 79.14,451.29 79.85,449.16 80.57,445.60 81.14,441.34 81.70,435.93 82.27,444.18 82.84,448.45 83.41,437.78 83.98,442.76 84.55,456.98 85.12,476.90 85.54,489.42 86.11,474.05 86.68,455.56 87.54,450.58 88.39,447.03 89.24,444.89 90.10,442.76 90.95,439.20 91.66,442.05 92.37,445.60 93.08,442.05 93.65,448.45 94.22,459.83 94.79,476.90 95.08,488.28 95.64,474.05 96.21,454.14 96.92,447.74 97.78,446.32 98.63,445.60 99.34,441.34 100.05,437.07 100.77,435.65 101.48,439.20 102.19,446.32 102.61,458.41 103.18,446.32 103.75,452.72 104.18,474.05 104.46,485.43 105.02,449.46 105.40,440.55 106.16,432.27 106.80,438.64 107.44,437.36 108.20,436.09 109.09,434.18 109.73,431.64 110.36,436.73 111.00,434.18 111.64,438.64 112.40,438.00 113.16,445.64 113.93,452.00 114.44,479.93 114.95,452.00 115.45,443.09 115.96,434.18 116.60,443.09 117.24,430.11 117.87,438.00 118.51,435.46 119.40,431.89 120.16,434.18 120.80,437.36 121.56,440.55 122.20,434.18 122.71,444.36 123.22,449.46 123.73,483.36 124.24,452.00 125.00,446.91 125.89,443.09 126.91,438.00 127.93,436.73 128.82,434.18 129.46,428.46 130.09,439.27 130.73,434.18 131.36,425.27 132.00,424.64 132.51,434.18 133.02,446.91 133.40,491.00 133.91,446.91 134.80,440.55 135.82,438.00 136.84,434.18 137.60,425.27 138.11,420.18 138.75,423.36 139.38,429.09 140.02,432.91 140.66,430.36 141.16,418.91 141.67,427.82 142.18,438.00 142.82,479.16 143.33,438.00 143.96,432.91 144.73,430.36 146.00,427.82 147.02,424.00 148.04,420.18 148.80,417.64 149.44,422.09 150.07,417.64 150.58,421.46 151.09,425.27 151.60,434.18 151.98,446.91 152.36,480.82 152.75,440.55 153.13,421.46 153.64,408.73 154.15,401.09 154.66,403.00 155.29,408.09 155.93,408.73 156.56,412.55 157.20,416.36 157.71,418.91 158.22,412.55 158.73,421.46 159.24,411.91 159.75,417.64 160.38,424.00 161.02,429.09 161.53,438.00 161.91,477.38 162.42,438.00 163.18,426.55 163.82,434.18 164.46,444.36 165.09,449.46 165.98,453.91 167.13,449.84" fill="none" stroke="#000" stroke-width="1.05" stroke-linejoin="round" stroke-linecap="round"/><rect x="46.50" y="397.40" width="125.8" height="97.8" fill="none" stroke="#000" stroke-width="1.1"/><path d="M60.90 495.20v5.0M80.10 495.20v5.0M99.30 495.20v5.0M118.50 495.20v5.0M137.70 495.20v5.0M156.90 495.20v5.0M46.50 491.50h-5.0M46.50 472.90h-5.0M46.50 454.30h-5.0M46.50 435.70h-5.0M46.50 417.10h-5.0M46.50 398.50h-5.0" fill="none" stroke="#000" stroke-width="1.1"/><text stroke="#000" stroke-width="0.12" x="60.90" y="512.50" font-size="7.9" text-anchor="middle">2002</text><text stroke="#000" stroke-width="0.12" x="99.30" y="512.50" font-size="7.9" text-anchor="middle">2006</text><text stroke="#000" stroke-width="0.12" x="137.70" y="512.50" font-size="7.9" text-anchor="middle">2010</text><text stroke="#000" stroke-width="0.12" transform="translate(35.70 491.50) rotate(-90)" font-size="7.9" text-anchor="middle">500</text><text stroke="#000" stroke-width="0.12" transform="translate(35.70 454.30) rotate(-90)" font-size="7.9" text-anchor="middle">1500</text><text stroke="#000" stroke-width="0.12" transform="translate(35.70 417.10) rotate(-90)" font-size="7.9" text-anchor="middle">2500</text><text stroke="#000" stroke-width="0.12" x="109.40" y="531.00" font-size="7.9" text-anchor="middle">Month</text><text stroke="#000" stroke-width="0.12" transform="translate(16.10 447.10) rotate(-90)" font-size="7.9" text-anchor="middle">Sales of Writing Papers</text><text stroke="#000" stroke-width="0.12" x="109.40" y="381.90" font-size="10.0" font-weight="bold" text-anchor="middle">A081</text></g>
<g><polyline points="235.05,448.32 235.47,441.30 235.90,430.07 236.32,437.09 236.74,434.28 237.16,439.90 237.59,449.72 238.01,452.53 238.43,460.95 238.86,466.56 239.28,473.58 239.70,483.40 240.12,473.58 240.55,463.75 240.97,448.32 241.39,451.12 241.82,444.11 242.24,455.33 242.66,458.14 243.09,462.35 243.51,467.96 243.93,477.79 244.35,483.40 244.78,491.82 245.20,484.80 245.62,477.79 246.05,463.75 246.47,449.72 246.89,445.51 247.31,453.93 247.74,453.93 248.16,451.12 248.58,460.95 249.01,460.95 249.43,460.95 249.85,470.77 250.27,467.96 250.70,451.12 251.12,448.32 251.54,438.49 251.97,448.32 252.39,446.91 252.81,445.51 253.24,442.70 253.66,444.11 254.08,448.32 254.50,456.74 254.93,459.54 255.35,445.51 255.77,430.07 256.20,407.62 256.62,411.83 257.04,416.04 257.46,421.65 257.89,435.69 258.31,421.65 258.73,425.86 259.16,437.09 259.58,448.32 260.00,453.93 260.43,445.51 260.85,437.09 261.27,420.25 261.69,406.22 262.12,413.23 262.54,417.44 262.96,430.07 263.39,424.46 263.81,430.07 264.23,427.27 264.65,451.12 265.08,455.33 265.50,451.12 265.92,444.11 266.35,423.06 266.77,424.46 267.19,430.07 267.61,437.09 268.04,435.69 268.46,430.07 268.88,441.30 269.31,449.72 269.73,467.96 270.15,476.38 270.57,465.16 271.00,463.75 271.42,463.75 271.84,474.98 272.27,463.75 272.69,455.33 273.11,448.32 273.54,439.90 273.96,455.33 274.38,460.95 274.80,470.77 275.23,479.19 275.65,473.58 276.07,469.37 276.50,456.74 276.92,463.75 277.34,462.35 277.76,472.17 278.19,474.98 278.61,477.79 279.03,486.21 279.46,484.80 279.88,487.61 280.30,484.80 280.72,486.21 281.15,484.80 281.57,474.98 281.99,480.59 282.42,474.98 282.84,477.79 283.26,482.00 283.69,474.98 284.11,470.77 284.53,469.37 284.95,470.77 285.38,479.19 285.80,463.75 286.22,460.95 286.65,445.51 287.07,442.70 287.49,435.69 287.91,442.70 288.34,453.93 288.76,455.33 289.18,458.14 289.61,453.93 290.03,462.35 290.45,458.14 290.88,452.53 291.30,444.11 291.72,437.09 292.14,439.90 292.57,442.70 292.99,444.11 293.41,452.53 293.84,458.14 294.26,451.12 294.68,448.32 295.10,466.56 295.53,472.17 295.95,458.14 296.37,448.32 296.80,431.48 297.22,441.30 297.64,434.28 298.06,434.28 298.49,437.09 298.91,439.90 299.33,449.72 299.76,452.53 300.18,453.93 300.60,459.54 301.02,448.32 301.45,442.70 301.87,400.60 302.29,407.62 302.72,420.25 303.14,432.88 303.56,445.51 303.99,452.53 304.41,441.30 304.83,449.72 305.25,458.14 305.68,456.74 306.10,451.12 306.52,442.70 306.95,423.06 307.37,424.46 307.79,438.49 308.21,444.11 308.64,448.32 309.06,446.91 309.48,452.53 309.91,452.53 310.33,465.16 310.75,473.58 311.17,465.16 311.60,448.32 312.02,430.07 312.44,430.07 312.87,435.69 313.29,434.28 313.71,445.51 314.14,442.70 314.56,449.72 314.98,445.51 315.40,465.16 315.83,466.56 316.25,452.53 316.67,453.93 317.10,444.11 317.52,441.30 317.94,439.90 318.36,444.11 318.79,438.49 319.21,439.90 319.63,456.74 320.06,453.93 320.48,459.54 320.90,469.37 321.32,462.35 321.75,455.33 322.17,444.11 322.59,452.53 323.02,455.33 323.44,455.33 323.86,460.95 324.29,460.95 324.71,472.17 325.13,473.58 325.55,477.79 325.98,484.80 326.40,483.40 326.82,469.37 327.25,460.95 327.67,460.95 328.09,459.54 328.51,459.54 328.94,465.16 329.36,460.95 329.78,473.58 330.21,467.96 330.63,470.77 331.05,474.98 331.48,458.14 331.90,448.32 332.32,446.91 332.74,451.12 333.17,452.53 333.59,451.12 334.01,452.53 334.44,446.91 334.86,453.93 335.28,458.14 335.70,466.56 336.13,466.56 336.55,463.75 336.97,455.33 337.40,441.30 337.82,432.88 338.24,444.11 338.66,442.70 339.09,448.32 339.51,445.51 339.93,445.51 340.36,446.91 340.78,451.12 341.20,453.93 341.62,462.35 342.05,444.11 342.47,421.65 342.89,434.28 343.32,434.28 343.74,448.32 344.16,452.53 344.59,442.70 345.01,449.72 345.43,445.51 345.85,462.35 346.28,469.37 346.70,459.54 347.12,459.54 347.55,441.30 347.97,444.11 348.39,437.09 348.81,435.69 349.24,435.69 349.66,437.09 350.08,448.32 350.51,449.72 350.93,463.75" fill="none" stroke="#000" stroke-width="1.05" stroke-linejoin="round" stroke-linecap="round"/><rect x="230.50" y="397.40" width="125.4" height="97.8" fill="none" stroke="#000" stroke-width="1.1"/><path d="M245.20 495.20v5.0M270.57 495.20v5.0M295.95 495.20v5.0M321.32 495.20v5.0M346.70 495.20v5.0M230.50 483.40h-5.0M230.50 469.37h-5.0M230.50 455.33h-5.0M230.50 441.30h-5.0M230.50 427.27h-5.0M230.50 413.23h-5.0M230.50 399.20h-5.0" fill="none" stroke="#000" stroke-width="1.1"/><text stroke="#000" stroke-width="0.12" x="245.20" y="512.50" font-size="7.9" text-anchor="middle">1975</text><text stroke="#000" stroke-width="0.12" x="270.57" y="512.50" font-size="7.9" text-anchor="middle">1980</text><text stroke="#000" stroke-width="0.12" x="295.95" y="512.50" font-size="7.9" text-anchor="middle">1985</text><text stroke="#000" stroke-width="0.12" x="321.32" y="512.50" font-size="7.9" text-anchor="middle">1990</text><text stroke="#000" stroke-width="0.12" x="346.70" y="512.50" font-size="7.9" text-anchor="middle">1995</text><text stroke="#000" stroke-width="0.12" transform="translate(219.70 483.40) rotate(-90)" font-size="7.9" text-anchor="middle">30</text><text stroke="#000" stroke-width="0.12" transform="translate(219.70 455.33) rotate(-90)" font-size="7.9" text-anchor="middle">50</text><text stroke="#000" stroke-width="0.12" transform="translate(219.70 427.27) rotate(-90)" font-size="7.9" text-anchor="middle">70</text><text stroke="#000" stroke-width="0.12" transform="translate(219.70 399.20) rotate(-90)" font-size="7.9" text-anchor="middle">90</text><text stroke="#000" stroke-width="0.12" x="293.20" y="531.00" font-size="7.9" text-anchor="middle">Month</text><text stroke="#000" stroke-width="0.12" transform="translate(200.10 447.10) rotate(-90)" font-size="7.9" text-anchor="middle">House Sales</text><text stroke="#000" stroke-width="0.12" x="293.20" y="381.90" font-size="10.0" font-weight="bold" text-anchor="middle">A082</text></g>
<g><polyline points="418.56,481.60 419.40,483.40 420.24,485.20 421.20,487.00 422.16,487.60 423.00,488.80 423.84,484.00 424.56,479.20 425.28,478.00 426.00,481.00 426.72,483.40 427.44,485.20 428.16,487.00 428.88,487.60 429.60,489.40 430.32,486.40 431.04,482.20 431.76,479.44 432.48,482.20 433.20,484.00 433.92,484.60 434.64,485.20 435.36,486.40 436.08,484.60 436.56,490.00 437.16,486.40 437.76,481.36 438.48,482.80 439.20,486.40 439.92,488.80 440.64,491.20 441.36,488.80 442.08,487.60 442.80,488.20 443.52,486.40 444.24,480.40 444.96,475.60 445.44,474.16 446.04,477.40 446.64,478.60 447.36,478.00 448.08,477.40 448.80,472.00 449.52,468.40 450.24,463.60 450.72,454.00 451.20,445.60 451.80,439.84 452.40,442.00 453.12,444.40 453.84,445.00 454.56,446.20 455.28,447.40 455.76,443.80 456.24,448.00 456.84,455.20 457.44,448.00 457.92,443.80 458.52,441.76 459.12,446.20 459.84,451.60 460.56,455.20 461.28,458.20 462.00,457.60 462.60,460.00 463.20,462.40 463.92,457.60 464.64,454.00 465.36,449.80 466.08,452.80 466.80,456.40 467.52,458.80 468.24,461.20 468.96,462.40 469.56,467.44 470.24,464.80 470.60,460.00 471.20,454.00 471.92,451.00 472.64,455.20 473.36,460.00 474.08,463.60 474.80,458.80 475.52,455.20 476.24,460.60 476.96,456.40 477.68,450.40 478.40,445.60 479.00,445.00 479.60,450.40 480.32,455.20 481.04,458.20 482.00,458.80 482.72,460.60 483.32,463.00 483.92,457.60 484.64,453.76 485.60,453.52 486.32,456.40 486.80,460.00 487.52,464.80 488.24,469.00 488.72,466.00 489.20,470.80 489.80,473.80 490.40,468.40 491.00,463.00 491.60,460.00 492.20,464.80 492.80,469.60 493.52,473.20 494.24,475.00 494.96,474.40 495.68,476.80 496.40,479.20 497.12,472.00 497.84,464.80 498.56,460.60 499.16,464.80 499.76,467.44 500.48,466.60 501.20,463.60 501.92,459.40 502.64,457.00 503.24,455.20 503.84,448.00 504.32,442.00 504.68,437.20 504.80,432.00 505.52,428.40 506.12,425.40 506.72,430.80 507.32,437.40 507.92,430.80 508.64,424.80 509.24,426.00 509.72,431.40 510.32,420.00 510.92,412.80 511.52,407.04 512.12,412.80 512.72,417.60 513.44,418.20 514.16,417.60 514.88,417.84 515.60,418.80 516.32,420.00 516.80,414.00 517.40,408.00 518.12,400.80 518.72,406.80 519.32,414.00 519.92,417.60 520.64,420.00 521.36,418.20 522.08,417.00 522.80,419.40 523.40,415.20 524.00,411.60 524.72,405.84 525.32,412.80 525.92,420.00 526.52,426.00 527.12,427.80 527.84,430.80 528.56,433.20 529.28,438.00 530.00,432.00 530.72,426.00 531.32,421.44 531.92,430.80 532.52,438.00 533.24,440.40 533.96,442.80 534.68,444.60" fill="none" stroke="#000" stroke-width="1.15" stroke-linejoin="round" stroke-linecap="round"/><rect x="414.10" y="397.40" width="125.4" height="97.8" fill="none" stroke="#000" stroke-width="1.1"/><path d="M431.30 495.20v5.0M464.60 495.20v5.0M497.90 495.20v5.0M531.20 495.20v5.0M414.10 485.50h-5.0M414.10 472.35h-5.0M414.10 459.20h-5.0M414.10 446.05h-5.0M414.10 432.90h-5.0M414.10 419.75h-5.0M414.10 406.60h-5.0" fill="none" stroke="#000" stroke-width="1.1"/><text stroke="#000" stroke-width="0.12" x="431.30" y="512.50" font-size="7.9" text-anchor="middle">1980</text><text stroke="#000" stroke-width="0.12" x="464.60" y="512.50" font-size="7.9" text-anchor="middle">1985</text><text stroke="#000" stroke-width="0.12" x="497.90" y="512.50" font-size="7.9" text-anchor="middle">1990</text><text stroke="#000" stroke-width="0.12" x="531.20" y="512.50" font-size="7.9" text-anchor="middle">1995</text><text stroke="#000" stroke-width="0.12" transform="translate(403.30 485.50) rotate(-90)" font-size="7.9" text-anchor="middle">4e+05</text><text stroke="#000" stroke-width="0.12" transform="translate(403.30 446.05) rotate(-90)" font-size="7.9" text-anchor="middle">7e+05</text><text stroke="#000" stroke-width="0.12" transform="translate(403.30 406.60) rotate(-90)" font-size="7.9" text-anchor="middle">1e+06</text><text stroke="#000" stroke-width="0.12" x="476.80" y="531.00" font-size="7.9" text-anchor="middle">Month</text><text stroke="#000" stroke-width="0.12" transform="translate(383.70 447.10) rotate(-90)" font-size="7.9" text-anchor="middle">Number of People</text><text stroke="#000" stroke-width="0.12" x="476.80" y="381.90" font-size="10.0" font-weight="bold" text-anchor="middle">A094</text></g>
</g></svg>
</body></html>
